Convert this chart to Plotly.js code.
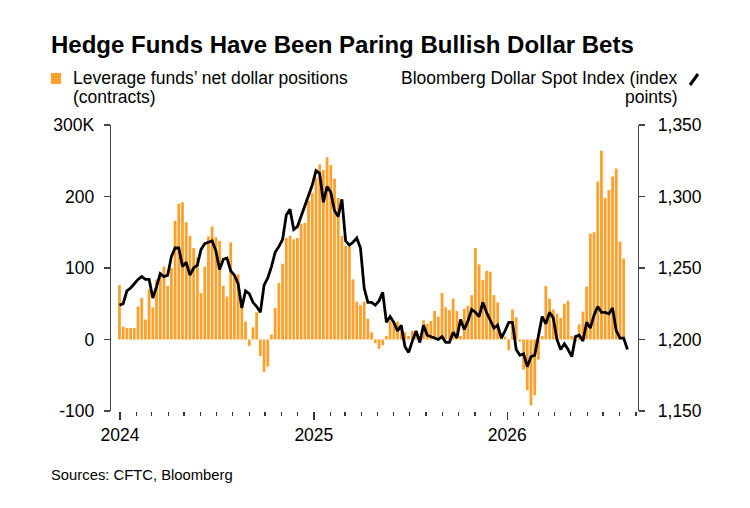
<!DOCTYPE html>
<html>
<head>
<meta charset="utf-8">
<script src="https://cdn.plot.ly/plotly-3.0.1.min.js"></script>
<style>
  html, body { margin: 0; padding: 0; background: #fff; }
  #chart { width: 750px; height: 508px; }
</style>
</head>
<body>
<div id="chart"></div>
<script>
// ---- Data ----
const startDate = "2023-12-31";   // first weekly observation
const positions = [
  76, 18, 16, 16, 16, 46, 58, 28, 70, 45,
  84, 94, 102, 75, 100, 166, 190, 192, 164, 145,
  128, 115, 65, 102, 144, 158, 143, 138, 75, 60,
  136, 88, 91, 45, 25, -9, 17, 38, -23, -45,
  -38, 7, 44, 79, 106, 142, 145, 140, 142, 162,
  163, 194, 205, 226, 245, 237, 255, 244, 225, 198,
  145, 131, 130, 84, 53, 48, 53, 29, 10, -5,
  -13, -8, 5, 26, 23, 25, 18, 10, 5, 12,
  10, -5, 27, 22, 26, 40, 32, 65, 45, 41,
  57, 40, 5, 43, 47, 62, 128, 105, 83, 96,
  95, 62, 52, 9, 4, -15, 42, 31, -3, -42,
  -71, -92, -78, -28, 5, 75, 57, 42, 36, 30,
  50, 54, 5, -3, 21, 39, 74, 148, 150, 221,
  264, 198, 209, 228, 239, 137, 113
];
const dollarIndex = [
  1224, 1225, 1234, 1236, 1239, 1242, 1244, 1242, 1242, 1229,
  1237, 1246, 1244, 1245, 1258, 1264, 1264, 1251, 1254, 1245,
  1250, 1252, 1263, 1267, 1268, 1269, 1262, 1249, 1256, 1257,
  1248, 1245, 1239, 1222, 1234, 1232, 1226, 1223, 1219, 1238,
  1243, 1251, 1261, 1265, 1270, 1287, 1291, 1277, 1279, 1286,
  1294, 1300, 1308, 1318, 1316, 1296, 1307, 1303, 1290, 1286,
  1298, 1269, 1266, 1268, 1271, 1264, 1236, 1226, 1226, 1224,
  1227, 1233, 1212, 1216, 1212, 1206, 1210, 1195, 1191, 1199,
  1206, 1198, 1210, 1203, 1202, 1201, 1200, 1202, 1198, 1198,
  1205, 1201, 1214, 1207, 1213, 1221, 1219, 1216, 1226, 1219,
  1214, 1208, 1210, 1201, 1206, 1212, 1212, 1193, 1189, 1190,
  1181, 1188, 1189, 1203, 1216, 1211, 1219, 1215, 1200, 1193,
  1197, 1193, 1188, 1202, 1203, 1199, 1212, 1208, 1217, 1223,
  1219, 1219, 1218, 1222, 1206, 1201, 1201, 1193
];
const leftTickVals = [-100, 0, 100, 200, 300];
const leftTickText = ["-100", "0", "100", "200", "300K"];
const rightTickVals = [1150, 1200, 1250, 1300, 1350];
const rightTickText = ["1,150", "1,200", "1,250", "1,300", "1,350"];
const yearTickVals = ["2024-01-01", "2025-01-01", "2026-01-01"];
const yearTickText = ["2024", "2025", "2026"];

// weekly dates
function weeklyDates(start, n) {
  const out = [];
  const d0 = new Date(start + "T00:00:00Z");
  for (let i = 0; i < n; i++) {
    const d = new Date(d0.getTime() + i * 7 * 86400000);
    out.push(d.toISOString().slice(0, 10));
  }
  return out;
}
const barDates = weeklyDates(startDate, positions.length);
const lineDates = weeklyDates(startDate, dollarIndex.length);

// ---- Layout geometry (pixels) ----
const W = 750, H = 508;
const M = { l: 111, r: 112, t: 125, b: 97 };
const PW = W - M.l - M.r, PH = H - M.t - M.b;
const px = x => (x - M.l) / PW;
const py = y => (H - M.b - y) / PH;

const ORANGE = "#FFA02A";
const FONT = "Liberation Sans, Arial, sans-serif";
const TXT = 17.5;

const traces = [
  {
    type: "bar", x: barDates, y: positions, yaxis: "y",
    marker: { color: ORANGE, line: { width: 0 } },
    hoverinfo: "skip"
  },
  {
    type: "scatter", mode: "lines", x: lineDates, y: dollarIndex, yaxis: "y2",
    line: { color: "#000000", width: 2.8 },
    hoverinfo: "skip"
  }
];

const textAnn = (text, x, y, size, xanchor, extra) => Object.assign({
  text, xref: "paper", yref: "paper", x: px(x), y: py(y),
  xanchor, yanchor: "middle", showarrow: false,
  font: { family: FONT, size, color: "#000" }, align: xanchor
}, extra || {});

const layout = {
  width: W, height: H,
  margin: M,
  paper_bgcolor: "#fff", plot_bgcolor: "#fff",
  showlegend: false,
  bargap: 0.25,
  font: { family: FONT, size: TXT, color: "#000" },
  xaxis: {
    type: "date",
    range: ["2023-12-15", "2026-09-05"],
    tickvals: yearTickVals, ticktext: yearTickText,
    ticks: "outside", ticklen: 8, tickwidth: 1.3, tickcolor: "#333",
    showline: false, showgrid: false, zeroline: false,
    tickfont: { family: FONT, size: TXT, color: "#000" },
    minor: { dtick: "M1", tick0: "2024-01-01", ticks: "outside", ticklen: 4, tickwidth: 1.3, tickcolor: "#333", showgrid: false }
  },
  yaxis: {
    range: [-100, 300],
    tickvals: leftTickVals, ticktext: leftTickText,
    ticks: "outside", ticklen: 6, tickwidth: 1.3, tickcolor: "#444",
    showline: true, linecolor: "#444", linewidth: 1.3,
    showgrid: false, zeroline: false,
    ticklabelstandoff: 6,
    tickfont: { family: FONT, size: TXT, color: "#000" }
  },
  yaxis2: {
    overlaying: "y", side: "right",
    range: [1150, 1350],
    tickvals: rightTickVals, ticktext: rightTickText,
    ticks: "outside", ticklen: 6, tickwidth: 1.3, tickcolor: "#444",
    showline: true, linecolor: "#444", linewidth: 1.3,
    showgrid: false, zeroline: false,
    ticklabelstandoff: 9,
    tickfont: { family: FONT, size: TXT, color: "#000" }
  },
  annotations: [
    textAnn("<b>Hedge Funds Have Been Paring Bullish Dollar Bets</b>", 49, 44, 24, "left"),
    textAnn("Leverage funds’ net dollar positions", 71, 78, TXT, "left"),
    textAnn("(contracts)", 71, 97, TXT, "left"),
    textAnn("Bloomberg Dollar Spot Index (index", 680, 78, TXT, "right"),
    textAnn("points)", 680, 97, TXT, "right"),
    textAnn("Sources: CFTC, Bloomberg", 49, 475, 14.8, "left")
  ],
  shapes: [
    { type: "rect", xref: "paper", yref: "paper",
      x0: px(51), x1: px(61), y0: py(84), y1: py(73),
      fillcolor: ORANGE, line: { width: 0 } },
    { type: "line", xref: "paper", yref: "paper",
      x0: px(690), x1: px(698), y0: py(85), y1: py(74),
      line: { color: "#000", width: 3 } }
  ]
};

Plotly.newPlot("chart", traces, layout, { staticPlot: true, displayModeBar: false });
</script>
</body>
</html>
